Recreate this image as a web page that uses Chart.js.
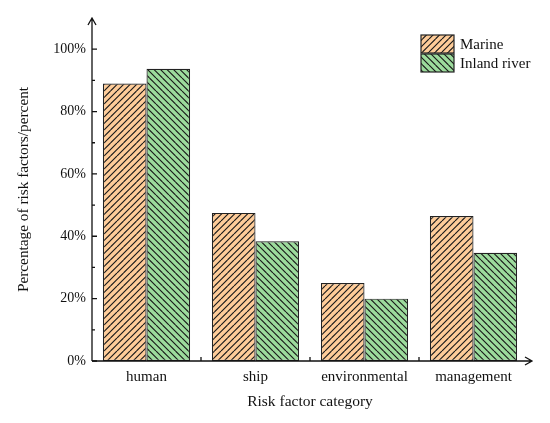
<!DOCTYPE html>
<html>
<head>
<meta charset="utf-8">
<script src="https://cdn.jsdelivr.net/npm/chart.js@4/dist/chart.umd.min.js"></script>
<style>
  html, body { margin: 0; padding: 0; background: #fff; }
  #wrap { width: 550px; height: 423px; }
</style>
</head>
<body>
<div id="wrap"><canvas id="chart" width="550" height="423"></canvas></div>
<script>
// chart data
const categories = ['human', 'ship', 'environmental', 'management'];
const marine = [89.0, 47.5, 25.0, 46.5];
const inlandRiver = [93.7, 38.4, 20.0, 34.7];
const seriesNames = ['Marine', 'Inland river'];
const yTickValues = [0, 20, 40, 60, 80, 100];
const yMinorValues = [10, 30, 50, 70, 90];

const FONT = "'Liberation Serif', 'Times New Roman', serif";
const INK = '#111';

// hatched fill, dir 1 = "///", dir -1 = "\\\"
function hatch(bg, dir) {
  const s = 13, step = 6.5;
  const c = document.createElement('canvas');
  c.width = s; c.height = s;
  const g = c.getContext('2d');
  g.fillStyle = bg;
  g.fillRect(0, 0, s, s);
  g.strokeStyle = '#1a1a1a';
  g.lineWidth = 1.15;
  g.beginPath();
  for (let k = -s; k <= s; k += step) {
    if (dir > 0) { g.moveTo(k, s); g.lineTo(k + s, 0); }
    else { g.moveTo(k, 0); g.lineTo(k + s, s); }
  }
  g.stroke();
  return g.createPattern(c, 'repeat');
}

const orangeHatch = hatch('rgb(254,204,153)', 1);
const greenHatch = hatch('rgb(156,219,156)', -1);

// axes with arrows, inward ticks, and the boxed legend
const axesPlugin = {
  id: 'axesPlugin',
  afterDatasetsDraw(chart) {
    const { ctx, chartArea: a, scales: { x, y } } = chart;
    ctx.save();
    ctx.strokeStyle = INK;
    ctx.fillStyle = INK;
    ctx.lineWidth = 1.3;

    // y axis + arrow
    ctx.beginPath();
    ctx.moveTo(a.left, a.bottom);
    ctx.lineTo(a.left, a.top);
    ctx.moveTo(a.left - 4, a.top + 7);
    ctx.lineTo(a.left, a.top);
    ctx.lineTo(a.left + 4, a.top + 7);
    ctx.stroke();

    // x axis + arrow
    const xEnd = a.right + 4;
    ctx.beginPath();
    ctx.moveTo(a.left, a.bottom);
    ctx.lineTo(xEnd, a.bottom);
    ctx.moveTo(xEnd - 7, a.bottom - 4);
    ctx.lineTo(xEnd, a.bottom);
    ctx.lineTo(xEnd - 7, a.bottom + 4);
    ctx.stroke();

    // y ticks (inward)
    ctx.beginPath();
    yTickValues.forEach(v => {
      const py = y.getPixelForValue(v);
      ctx.moveTo(a.left, py); ctx.lineTo(a.left + 5, py);
    });
    yMinorValues.forEach(v => {
      const py = y.getPixelForValue(v);
      ctx.moveTo(a.left, py); ctx.lineTo(a.left + 3, py);
    });
    // x ticks between categories
    for (let i = 0; i < categories.length - 1; i++) {
      const px = (x.getPixelForValue(i) + x.getPixelForValue(i + 1)) / 2;
      ctx.moveTo(px, a.bottom); ctx.lineTo(px, a.bottom - 4);
    }
    ctx.stroke();

    // legend
    const lx = 421, ly = 35, bw = 33, bh = 18;
    ctx.font = '15px ' + FONT;
    ctx.textBaseline = 'middle';
    ctx.textAlign = 'left';
    chart.data.datasets.forEach((ds, i) => {
      const top = ly + i * (bh + 1);
      ctx.fillStyle = ds.backgroundColor;
      ctx.fillRect(lx, top, bw, bh);
      ctx.strokeStyle = '#222';
      ctx.lineWidth = 1.2;
      ctx.strokeRect(lx, top, bw, bh);
      ctx.fillStyle = INK;
      ctx.fillText(ds.label, lx + bw + 6, top + bh / 2 + 1);
    });
    ctx.restore();
  }
};

new Chart(document.getElementById('chart'), {
  type: 'bar',
  data: {
    labels: categories,
    datasets: [
      { label: seriesNames[0], data: marine, backgroundColor: orangeHatch },
      { label: seriesNames[1], data: inlandRiver, backgroundColor: greenHatch }
    ]
  },
  options: {
    responsive: false,
    animation: false,
    layout: { padding: { top: 18, right: 22, left: 0, bottom: 0 } },
    datasets: {
      bar: {
        barPercentage: 1.0,
        categoryPercentage: 0.8,
        borderColor: '#222',
        borderWidth: 1.2,
        borderSkipped: false
      }
    },
    plugins: {
      legend: { display: false },
      tooltip: { enabled: false }
    },
    scales: {
      x: {
        grid: { display: false, drawTicks: false },
        border: { display: false },
        ticks: { color: INK, font: { family: FONT, size: 15 }, padding: 7, maxRotation: 0 },
        title: {
          display: true,
          text: 'Risk factor category',
          color: INK,
          font: { family: FONT, size: 15.5 },
          padding: { top: 0, bottom: 12 }
        },
        afterFit(scale) { scale.height = 62; }
      },
      y: {
        min: 0,
        max: 110,
        grid: { display: false, drawTicks: false },
        border: { display: false },
        afterBuildTicks(scale) { scale.ticks = yTickValues.map(v => ({ value: v })); },
        ticks: {
          color: INK,
          font: { family: FONT, size: 14 },
          padding: 6,
          callback: v => v + '%'
        },
        title: {
          display: true,
          text: 'Percentage of risk factors/percent',
          color: INK,
          font: { family: FONT, size: 15.3 },
          padding: { top: 15, bottom: 0 }
        },
        afterFit(scale) { scale.width = 92; }
      }
    }
  },
  plugins: [axesPlugin]
});
</script>
</body>
</html>
